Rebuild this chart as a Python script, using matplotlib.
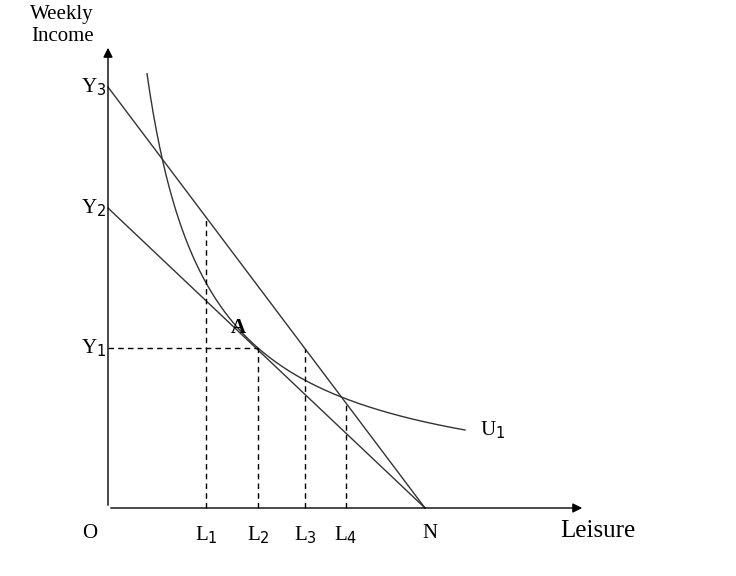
import numpy as np
import matplotlib
matplotlib.use("Agg")
import matplotlib.pyplot as plt

# diagram values (x: leisure, y: income), units arbitrary
Y_vals = {"Y1": 160, "Y2": 300, "Y3": 421}
N_val = 317
L_vals = {"L1": 98, "L2": 150, "L3": 197, "L4": 238}
# indifference curve U1: y = c + k/(x - b)
u_c, u_k, u_b = 10, 25755, -21.7
u_x_range = (39, 357)

plt.rcParams['font.family'] = ['Liberation Serif', 'DejaVu Serif']
fig = plt.figure(figsize=(7.36, 5.76), dpi=100)
ax = fig.add_axes([0, 0, 1, 1])
ax.set_xlim(-108, 628)
ax.set_ylim(-68, 508)
ax.axis('off')

lw = 1.0
ax.annotate('', xy=(477, 0), xytext=(0, 0),
            arrowprops=dict(arrowstyle='-|>', color='k', lw=lw, mutation_scale=14))
ax.annotate('', xy=(0, 463), xytext=(0, 0),
            arrowprops=dict(arrowstyle='-|>', color='k', lw=lw, mutation_scale=14))

def budget(y0, x):
    return y0 * (1 - np.asarray(x) / N_val)

ax.plot([0, N_val], [Y_vals["Y3"], 0], color='#333', lw=lw)
ax.plot([0, N_val], [Y_vals["Y2"], 0], color='#333', lw=lw)

xs = np.linspace(*u_x_range, 300)
ax.plot(xs, u_c + u_k / (xs - u_b), color='#333', lw=lw)

dash = dict(color='k', lw=1.0, ls=(0, (4, 3)))
ax.plot([L_vals["L1"]] * 2, [0, budget(Y_vals["Y3"], L_vals["L1"])], **dash)
ax.plot([L_vals["L2"]] * 2, [0, Y_vals["Y1"]], **dash)
ax.plot([L_vals["L3"]] * 2, [0, budget(Y_vals["Y3"], L_vals["L3"])], **dash)
ax.plot([L_vals["L4"]] * 2, [0, budget(Y_vals["Y3"], L_vals["L4"])], **dash)
ax.plot([0, L_vals["L2"]], [Y_vals["Y1"], Y_vals["Y1"]], **dash)

fs = 15
for name, v in Y_vals.items():
    ax.text(-2, v, name[0] + '$_{' + name[1] + '}$', ha='right', va='center', fontsize=fs)
for name, v in L_vals.items():
    ax.text(v, -16, name[0] + '$_{' + name[1] + '}$', ha='center', va='top', fontsize=fs)
ax.text(-18, -16, 'O', ha='center', va='top', fontsize=fs)
ax.text(N_val + 5, -16, 'N', ha='center', va='top', fontsize=fs)
ax.text(452, -12, 'Leisure', ha='left', va='top', fontsize=18)
ax.text(-14, 462, 'Income', ha='right', va='bottom', fontsize=15)
ax.text(-14, 484, 'Weekly', ha='right', va='bottom', fontsize=15)
ax.text(130, 170, 'A', ha='center', va='bottom', fontsize=15, fontweight='bold')
ax.text(372, 78, 'U$_{1}$', ha='left', va='center', fontsize=fs)

fig.savefig('out.png', dpi=100)
